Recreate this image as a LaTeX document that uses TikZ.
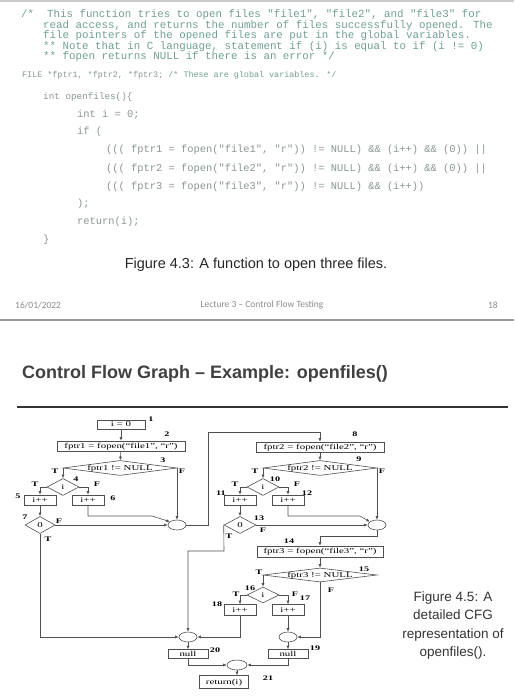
\documentclass[tikz,border=0pt]{standalone}
\usepackage{fontspec}
\setmainfont{Liberation Sans}
\newfontfamily\codefont[Ligatures=TeXOff]{Liberation Mono}
\newfontfamily\cfgfont[FakeStretch=1.45,Ligatures=TeX]{Liberation Serif}
\newfontfamily\footfont{Carlito}
\usetikzlibrary{arrows.meta,positioning,shapes.geometric,calc}
\definecolor{cmtcol}{RGB}{112,158,148}
\definecolor{codecol}{RGB}{138,150,146}
\definecolor{titlecol}{RGB}{64,64,64}
\definecolor{edgecol}{RGB}{80,80,80}
\tikzset{
  code/.style={anchor=west,inner sep=0pt,text=codecol,font=\codefont\fontsize{10.4}{12}\selectfont},
  cmt/.style={code,text=cmtcol,font=\codefont\fontsize{10.8}{12}\selectfont},
  blk/.style={draw=edgecol,line width=0.6pt,inner sep=0pt,minimum height=10pt,text height=4.5pt,text depth=0.5pt,font=\cfgfont\fontsize{7.5}{8}\selectfont},
  cond/.style={blk,diamond,minimum width=114pt,minimum height=15pt,aspect=7.6},
  small/.style={blk,diamond,minimum width=32pt,minimum height=17pt,aspect=1.9},
  junc/.style={draw=edgecol,line width=0.6pt,ellipse,inner sep=0pt,minimum width=18pt,minimum height=10pt},
  num/.style={inner sep=0pt,font=\cfgfont\bfseries\fontsize{7}{8}\selectfont},
  arr/.style={-{Latex[length=3.5pt,width=3pt]},draw=edgecol,line width=0.6pt},
  ln/.style={draw=edgecol,line width=0.6pt},
}
\begin{document}
\begin{tikzpicture}[x=1pt,y=-1pt]
\useasboundingbox (0,0) rectangle (514,700);
\draw[black!20,line width=1.2pt] (0,1) -- (514,1);
% code of the function
\node[cmt] (c1) at (21,15) {/*\ \ This function tries to open files "file1", "file2", and "file3" for};
\node[cmt] (c2) at (43,25.5) {read access, and returns the number of files successfully opened. The};
\node[cmt] (c3) at (43,36) {file pointers of the opened files are put in the global variables.};
\node[cmt] (c4) at (43,46.5) {** Note that in C language, statement if (i) is equal to if (i != 0)};
\node[cmt] (c5) at (43,57) {** fopen returns NULL if there is an error */};
\node[code,font=\codefont\fontsize{8.4}{10}\selectfont] (glob) at (22,75) {FILE *fptr1, *fptr2, *fptr3; \textcolor{cmtcol}{/* These are global variables. */}};
\node[code,font=\codefont\fontsize{9.3}{10}\selectfont] (fhead) at (43,97) {int openfiles()\{};
\node[code] (init) at (77,115) {int i = 0;};
\node[code] (ifo) at (77,132) {if (};
\node[code] (l1) at (106,150) {((( fptr1 = fopen("file1", "r")) != NULL) \&\& (i++) \&\& (0)) ||};
\node[code] (l2) at (106,169) {((( fptr2 = fopen("file2", "r")) != NULL) \&\& (i++) \&\& (0)) ||};
\node[code] (l3) at (106,187) {((( fptr3 = fopen("file3", "r")) != NULL) \&\& (i++))};
\node[code] (ifc) at (77,204) {);};
\node[code] (ret) at (77,222) {return(i);};
\node[code] (fend) at (43,240) {\}};
\node[font=\fontsize{14.5}{16}\selectfont,text=black!85] (cap1) at (256,265) {Figure 4.3: A function to open three files.};
% footer and slide edge
\node[anchor=west,inner sep=0pt,font=\footfont\fontsize{9.5}{10}\selectfont,text=black!45] (date) at (15,305) {16/01/2022};
\node[inner sep=0pt,font=\footfont\fontsize{9.5}{10}\selectfont,text=black!45] (lect) at (262,305) {Lecture 3 – Control Flow Testing};
\node[anchor=east,inner sep=0pt,font=\footfont\fontsize{9.5}{10}\selectfont,text=black!45] (page) at (498,305) {18};
\draw[black!40,line width=2pt] (0,320) -- (514,320);
% second slide
\node[anchor=west,inner sep=0pt,font=\bfseries\fontsize{18}{20}\selectfont,text=titlecol] (title) at (22,374) {Control Flow Graph – Example: openfiles()};
\draw[black!80,line width=2.5pt] (17,407) -- (508,407);
% control flow graph
\node[blk,minimum width=48pt,minimum height=9pt] (b1) at (121,424.5) {i = 0};
\node[blk,minimum width=128pt] (b2) at (121,446) {fptr1 = fopen(``file1'', ``r'')};
\node[cond] (d3) at (120,468) {fptr1 != NULL};
\node[small] (d4) at (63,487) {i};
\node[blk,minimum width=32pt] (b5) at (40,500) {i++};
\node[blk,minimum width=32pt] (b6) at (88,500) {i++};
\node[small,minimum width=30pt] (d7) at (40,525) {0};
\node[junc] (m1) at (177,525) {};
\node[blk,minimum width=128pt] (b8) at (320,447) {fptr2 = fopen(``file2'', ``r'')};
\node[cond] (d9) at (320,468) {fptr2 != NULL};
\node[small] (d10) at (263,487) {i};
\node[blk,minimum width=32pt] (b11) at (240,500) {i++};
\node[blk,minimum width=32pt] (b12) at (288,500) {i++};
\node[small] (d13) at (240,525) {0};
\node[junc] (m2) at (377,525) {};
\node[blk,minimum width=126pt,minimum height=11pt] (b14) at (320,551.5) {fptr3 = fopen(``file3'', ``r'')};
\node[cond,minimum height=14pt] (d15) at (320,575) {fptr3 != NULL};
\node[small,minimum height=16pt] (d16) at (263,595) {i};
\node[blk,minimum width=32pt,minimum height=11pt] (b18) at (240,610) {i++};
\node[blk,minimum width=32pt,minimum height=11pt] (b17) at (288,610) {i++};
\node[junc] (mA) at (188,637) {};
\node[junc] (mB) at (288,637) {};
\node[blk,minimum width=40pt,minimum height=9pt] (b20) at (188,654) {null};
\node[blk,minimum width=40pt,minimum height=9pt] (b19) at (288,654) {null};
\node[junc,minimum width=20pt] (mC) at (237,665) {};
\node[blk,minimum width=49pt,minimum height=13pt] (b21) at (224,682) {return(i)};
\coordinate (k1) at (208,432);
\coordinate (k6) at (152,516);
\coordinate (k12) at (360,516);
\coordinate (k13) at (224,551);
\coordinate (k14) at (377,536);
% edges
\draw[arr] (b1) -- (b2);
\draw[arr] (b2) -- (d3);
\draw[arr] (d3.west) -| (d4.north);
\draw[arr] (d4.west) -| (b5.north);
\draw[arr] (d4.east) -| (b6.north);
\draw[arr] (b5) -- (d7);
\draw[arr] (d3.east) -| (m1.north);
\draw[arr] (d7.east) -- (m1.west);
\draw[arr] (b6.south) |- (k6) -- (m1.155);
\draw[arr] (m1.east) -| (k1) -| (b8.north);
\draw[arr] (b8) -- (d9);
\draw[arr] (d9.west) -| (d10.north);
\draw[arr] (d10.west) -| (b11.north);
\draw[arr] (d10.east) -| (b12.north);
\draw[arr] (b11) -- (d13);
\draw[arr] (d9.east) -| (m2.north);
\draw[arr] (d13.east) -- (m2.west);
\draw[arr] (b12.south) |- (k12) -- (m2.155);
\draw[arr] (m2.south) -- (k14) -| (b14.north);
\draw[arr] (b14) -- (d15);
\draw[arr] (d15.west) -| (d16.north);
\draw[arr] (d16.west) -| (b18.north);
\draw[arr] (d16.east) -| (b17.north);
\draw[arr] (d15.south) |- (mB.east);
\draw[arr] (b17) -- (mB);
\draw[arr] (b18.south) |- (mA.east);
\draw[arr] (d7.south) |- (mA.west);
\draw[arr] (d13.west) -- (k13) -| (mA.north);
\draw[arr] (mA) -- (b20);
\draw[arr] (mB) -- (b19);
\draw[arr] (b20.south) |- (mC.west);
\draw[arr] (b19.south) |- (mC.east);
\draw[arr] (mC.south) -- (mC.south |- b21.north);
% node numbers and branch labels
\foreach \n/\x/\y in {1/151/419,2/167/434,3/163/460,4/76/479,5/18/496,6/113/498,7/25/517,
  8/355/434,9/359/459,10/275/479,11/221/493,12/307/493,13/259/518,14/289/541,15/364/569,
  16/250/588,17/305/598,18/217/604,19/315/648,20/215/650,21/268/678}
  \node[num] at (\x,\y) {\n};
\foreach \t/\x/\y in {T/55/471,F/182/471,T/35/484,F/97/484,F/59/521,T/48/539,
  T/255/471,F/382/471,T/235/484,F/297/484,F/263/530,T/229/536,
  T/259/572,F/331/590,T/236/594,F/295/594}
  \node[num] at (\x,\y) {\t};
\node[align=center,font=\fontsize{13.5}{18.3}\selectfont,text=black!80] (cap2) at (453,625.5) {Figure 4.5: A\\detailed CFG\\representation of\\openfiles().};
\end{tikzpicture}
\end{document}
